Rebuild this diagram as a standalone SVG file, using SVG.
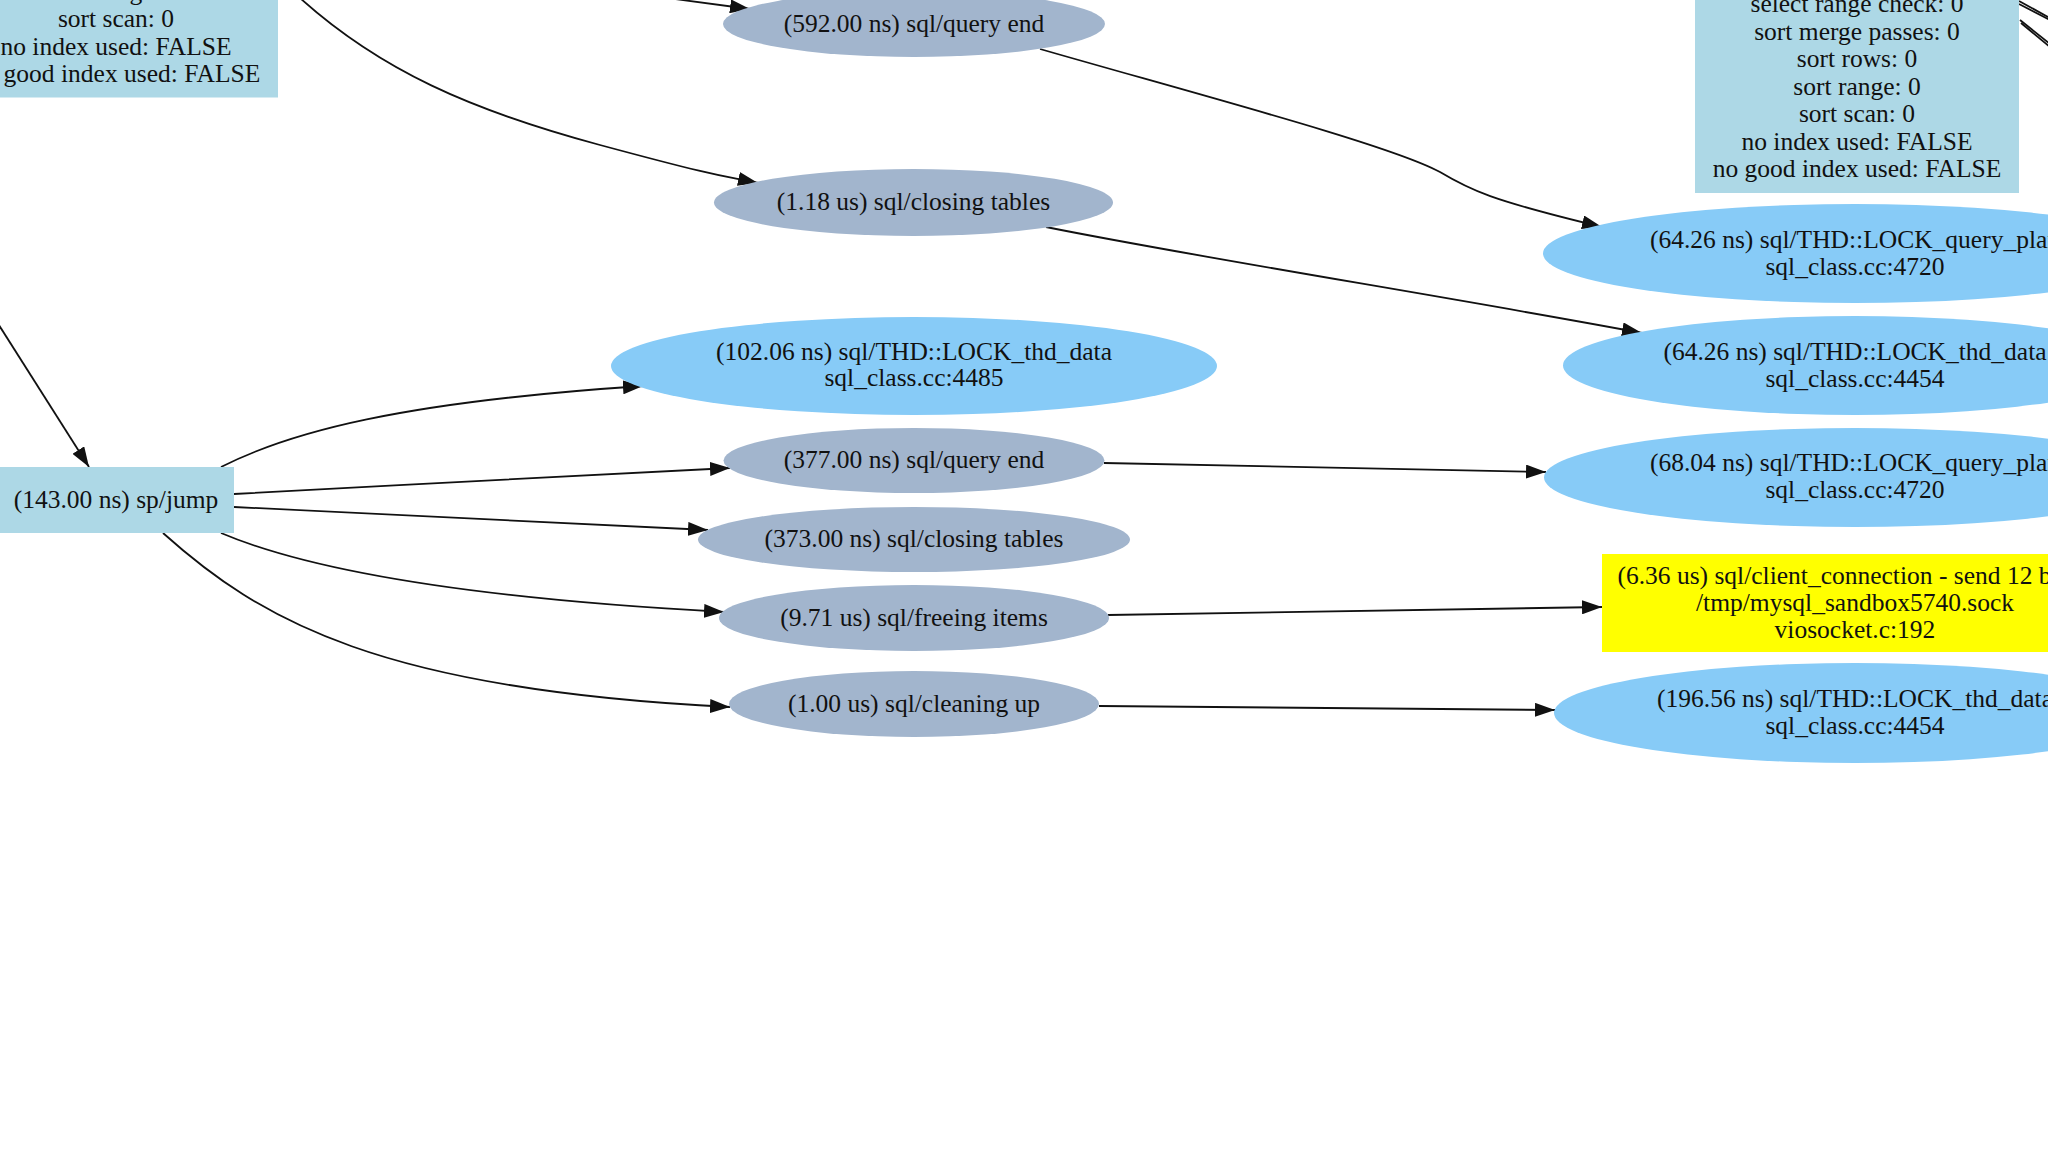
<svg xmlns="http://www.w3.org/2000/svg" width="2048" height="1153" viewBox="0 0 2048 1153">
<defs>
<style>
text{font-family:"Liberation Serif","Times New Roman",serif;font-size:25.5px;fill:#111;text-anchor:middle}
.box{fill:#add8e6}
.gray{fill:#a2b5cd}
.blue{fill:#87cbf7}
.yellow{fill:#ffff00}
.edge{fill:none;stroke:#111;stroke-width:1.8}
</style>
<marker id="arr" markerUnits="userSpaceOnUse" markerWidth="20" markerHeight="14" refX="20" refY="7" orient="auto">
<path d="M0,0 L20,7 L0,14 z" fill="#111"/>
</marker>
</defs>
<rect width="2048" height="1153" fill="#ffffff"/>

<g id="edges">
<path class="edge" d="M300,-2 C380,70 470,110 600,145 S720,175 758,183" marker-end="url(#arr)"/>
<path class="edge" d="M660,-3 L750,9" marker-end="url(#arr)"/>
<path class="edge" d="M1040,49 C1200,95 1390,145 1440,172 C1470,190 1490,200 1602,227" marker-end="url(#arr)"/>
<path class="edge" d="M1046,227 C1200,258 1450,297 1642,333" marker-end="url(#arr)"/>
<path class="edge" d="M-3,322 L89,467" marker-end="url(#arr)"/>
<path class="edge" d="M221,467 C290,432 400,402 643,386" marker-end="url(#arr)"/>
<path class="edge" d="M234,494 C400,485 600,474 730,468" marker-end="url(#arr)"/>
<path class="edge" d="M234,507 C400,514 560,522 708,530" marker-end="url(#arr)"/>
<path class="edge" d="M221,533 C320,575 500,600 724,612" marker-end="url(#arr)"/>
<path class="edge" d="M163,533 C260,620 380,690 730,707" marker-end="url(#arr)"/>
<path class="edge" d="M1104,463 L1546,472" marker-end="url(#arr)"/>
<path class="edge" d="M1108,615 L1602,607" marker-end="url(#arr)"/>
<path class="edge" d="M1099,706 L1555,710" marker-end="url(#arr)"/>
<path class="edge" d="M2019,1 L2050,18"/>
<path class="edge" d="M2019,4 L2050,20"/>
<path class="edge" d="M2020,20 L2050,44"/>
<path class="edge" d="M2021,23 L2050,47"/>
</g>

<g id="node-stats-left">
<rect class="box" x="-46" y="-20" width="324" height="117.5"/>
<text x="116" y="-0.5">sort range: 0</text>
<text x="116" y="27">sort scan: 0</text>
<text x="116" y="54.5">no index used: FALSE</text>
<text x="116" y="82">no good index used: FALSE</text>
</g>

<g id="node-stats-right">
<rect class="box" x="1695" y="-20" width="324" height="213"/>
<text x="1857" y="12">select range check: 0</text>
<text x="1857" y="39.5">sort merge passes: 0</text>
<text x="1857" y="67">sort rows: 0</text>
<text x="1857" y="94.5">sort range: 0</text>
<text x="1857" y="122">sort scan: 0</text>
<text x="1857" y="149.5">no index used: FALSE</text>
<text x="1857" y="177">no good index used: FALSE</text>
</g>

<g id="node-sp-jump">
<rect class="box" x="-2" y="467" width="236" height="66"/>
<text x="116" y="508">(143.00 ns) sp/jump</text>
</g>

<g id="node-query-end-1">
<ellipse class="gray" cx="914" cy="24" rx="191" ry="33"/>
<text x="914" y="32">(592.00 ns) sql/query end</text>
</g>

<g id="node-closing-tables-1">
<ellipse class="gray" cx="913.5" cy="202.5" rx="199.5" ry="33.5"/>
<text x="913.5" y="210">(1.18 us) sql/closing tables</text>
</g>

<g id="node-lock-thd-data-1">
<ellipse class="blue" cx="914" cy="366" rx="303" ry="49"/>
<text x="914" y="360">(102.06 ns) sql/THD::LOCK_thd_data</text>
<text x="914" y="386">sql_class.cc:4485</text>
</g>

<g id="node-query-end-2">
<ellipse class="gray" cx="914" cy="460.5" rx="190.5" ry="32.5"/>
<text x="914" y="468">(377.00 ns) sql/query end</text>
</g>

<g id="node-closing-tables-2">
<ellipse class="gray" cx="914" cy="539.5" rx="216" ry="32.5"/>
<text x="914" y="547">(373.00 ns) sql/closing tables</text>
</g>

<g id="node-freeing-items">
<ellipse class="gray" cx="914" cy="618" rx="195" ry="33"/>
<text x="914" y="625.5">(9.71 us) sql/freeing items</text>
</g>

<g id="node-cleaning-up">
<ellipse class="gray" cx="914" cy="704" rx="185" ry="33"/>
<text x="914" y="712">(1.00 us) sql/cleaning up</text>
</g>

<g id="node-lock-query-plan-1">
<ellipse class="blue" cx="1855" cy="253.5" rx="312" ry="49.5"/>
<text x="1855" y="247.5">(64.26 ns) sql/THD::LOCK_query_plan</text>
<text x="1855" y="274.5">sql_class.cc:4720</text>
</g>

<g id="node-lock-thd-data-2">
<ellipse class="blue" cx="1855" cy="365.5" rx="292" ry="49.5"/>
<text x="1855" y="359.5">(64.26 ns) sql/THD::LOCK_thd_data</text>
<text x="1855" y="386.5">sql_class.cc:4454</text>
</g>

<g id="node-lock-query-plan-2">
<ellipse class="blue" cx="1855" cy="477.5" rx="311" ry="49.5"/>
<text x="1855" y="471">(68.04 ns) sql/THD::LOCK_query_plan</text>
<text x="1855" y="498">sql_class.cc:4720</text>
</g>

<g id="node-client-connection">
<rect class="yellow" x="1602" y="554" width="506" height="98"/>
<text x="1855" y="584">(6.36 us) sql/client_connection - send 12 bytes</text>
<text x="1855" y="611">/tmp/mysql_sandbox5740.sock</text>
<text x="1855" y="638">viosocket.c:192</text>
</g>

<g id="node-lock-thd-data-3">
<ellipse class="blue" cx="1855" cy="713" rx="301" ry="50"/>
<text x="1855" y="707">(196.56 ns) sql/THD::LOCK_thd_data</text>
<text x="1855" y="734">sql_class.cc:4454</text>
</g>
</svg>
